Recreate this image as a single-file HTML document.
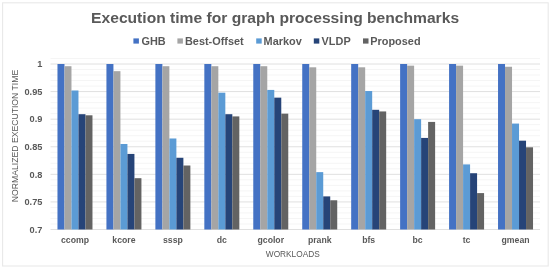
<!DOCTYPE html>
<html><head><meta charset="utf-8"><title>Execution time for graph processing benchmarks</title>
<style>
html,body{margin:0;padding:0;background:#fff;}
body{width:550px;height:269px;overflow:hidden;}
svg{display:block;filter:blur(0.3px);}
</style></head><body>
<svg width="550" height="269" viewBox="0 0 550 269" font-family="'Liberation Sans', Arial, sans-serif" fill="#595959">
<rect x="2.6" y="2.8" width="545.6" height="263.2" fill="#fff" stroke="#e9e9e9" stroke-width="1.1"/>
<line x1="50.5" x2="540.0" y1="58.48" y2="58.48" stroke="#f5f5f5" stroke-width="1"/>
<line x1="50.5" x2="540.0" y1="64.00" y2="64.00" stroke="#e0e0e0" stroke-width="1"/>
<line x1="50.5" x2="540.0" y1="69.52" y2="69.52" stroke="#f5f5f5" stroke-width="1"/>
<line x1="50.5" x2="540.0" y1="75.03" y2="75.03" stroke="#f5f5f5" stroke-width="1"/>
<line x1="50.5" x2="540.0" y1="80.55" y2="80.55" stroke="#f5f5f5" stroke-width="1"/>
<line x1="50.5" x2="540.0" y1="86.07" y2="86.07" stroke="#f5f5f5" stroke-width="1"/>
<line x1="50.5" x2="540.0" y1="91.58" y2="91.58" stroke="#e0e0e0" stroke-width="1"/>
<line x1="50.5" x2="540.0" y1="97.10" y2="97.10" stroke="#f5f5f5" stroke-width="1"/>
<line x1="50.5" x2="540.0" y1="102.62" y2="102.62" stroke="#f5f5f5" stroke-width="1"/>
<line x1="50.5" x2="540.0" y1="108.13" y2="108.13" stroke="#f5f5f5" stroke-width="1"/>
<line x1="50.5" x2="540.0" y1="113.65" y2="113.65" stroke="#f5f5f5" stroke-width="1"/>
<line x1="50.5" x2="540.0" y1="119.17" y2="119.17" stroke="#e0e0e0" stroke-width="1"/>
<line x1="50.5" x2="540.0" y1="124.68" y2="124.68" stroke="#f5f5f5" stroke-width="1"/>
<line x1="50.5" x2="540.0" y1="130.20" y2="130.20" stroke="#f5f5f5" stroke-width="1"/>
<line x1="50.5" x2="540.0" y1="135.72" y2="135.72" stroke="#f5f5f5" stroke-width="1"/>
<line x1="50.5" x2="540.0" y1="141.23" y2="141.23" stroke="#f5f5f5" stroke-width="1"/>
<line x1="50.5" x2="540.0" y1="146.75" y2="146.75" stroke="#e0e0e0" stroke-width="1"/>
<line x1="50.5" x2="540.0" y1="152.27" y2="152.27" stroke="#f5f5f5" stroke-width="1"/>
<line x1="50.5" x2="540.0" y1="157.78" y2="157.78" stroke="#f5f5f5" stroke-width="1"/>
<line x1="50.5" x2="540.0" y1="163.30" y2="163.30" stroke="#f5f5f5" stroke-width="1"/>
<line x1="50.5" x2="540.0" y1="168.82" y2="168.82" stroke="#f5f5f5" stroke-width="1"/>
<line x1="50.5" x2="540.0" y1="174.33" y2="174.33" stroke="#e0e0e0" stroke-width="1"/>
<line x1="50.5" x2="540.0" y1="179.85" y2="179.85" stroke="#f5f5f5" stroke-width="1"/>
<line x1="50.5" x2="540.0" y1="185.37" y2="185.37" stroke="#f5f5f5" stroke-width="1"/>
<line x1="50.5" x2="540.0" y1="190.88" y2="190.88" stroke="#f5f5f5" stroke-width="1"/>
<line x1="50.5" x2="540.0" y1="196.40" y2="196.40" stroke="#f5f5f5" stroke-width="1"/>
<line x1="50.5" x2="540.0" y1="201.92" y2="201.92" stroke="#e0e0e0" stroke-width="1"/>
<line x1="50.5" x2="540.0" y1="207.43" y2="207.43" stroke="#f5f5f5" stroke-width="1"/>
<line x1="50.5" x2="540.0" y1="212.95" y2="212.95" stroke="#f5f5f5" stroke-width="1"/>
<line x1="50.5" x2="540.0" y1="218.47" y2="218.47" stroke="#f5f5f5" stroke-width="1"/>
<line x1="50.5" x2="540.0" y1="223.98" y2="223.98" stroke="#f5f5f5" stroke-width="1"/>
<line x1="50.5" x2="540.0" y1="229.50" y2="229.50" stroke="#e0e0e0" stroke-width="1"/>
<rect x="57.47" y="64.00" width="7.0" height="165.50" fill="#4472C4"/>
<rect x="64.47" y="66.21" width="7.0" height="163.29" fill="#A5A5A5"/>
<rect x="71.47" y="90.48" width="7.0" height="139.02" fill="#5B9BD5"/>
<rect x="78.47" y="114.20" width="7.0" height="115.30" fill="#264478"/>
<rect x="85.47" y="115.30" width="7.0" height="114.20" fill="#636363"/>
<rect x="106.43" y="64.00" width="7.0" height="165.50" fill="#4472C4"/>
<rect x="113.43" y="71.17" width="7.0" height="158.33" fill="#A5A5A5"/>
<rect x="120.43" y="143.99" width="7.0" height="85.51" fill="#5B9BD5"/>
<rect x="127.43" y="153.92" width="7.0" height="75.58" fill="#264478"/>
<rect x="134.43" y="178.19" width="7.0" height="51.31" fill="#636363"/>
<rect x="155.38" y="64.00" width="7.0" height="165.50" fill="#4472C4"/>
<rect x="162.38" y="66.21" width="7.0" height="163.29" fill="#A5A5A5"/>
<rect x="169.38" y="138.48" width="7.0" height="91.02" fill="#5B9BD5"/>
<rect x="176.38" y="157.78" width="7.0" height="71.72" fill="#264478"/>
<rect x="183.38" y="165.51" width="7.0" height="63.99" fill="#636363"/>
<rect x="204.33" y="64.00" width="7.0" height="165.50" fill="#4472C4"/>
<rect x="211.33" y="66.21" width="7.0" height="163.29" fill="#A5A5A5"/>
<rect x="218.33" y="92.69" width="7.0" height="136.81" fill="#5B9BD5"/>
<rect x="225.33" y="114.20" width="7.0" height="115.30" fill="#264478"/>
<rect x="232.33" y="116.41" width="7.0" height="113.09" fill="#636363"/>
<rect x="253.27" y="64.00" width="7.0" height="165.50" fill="#4472C4"/>
<rect x="260.27" y="66.21" width="7.0" height="163.29" fill="#A5A5A5"/>
<rect x="267.27" y="89.93" width="7.0" height="139.57" fill="#5B9BD5"/>
<rect x="274.27" y="97.65" width="7.0" height="131.85" fill="#264478"/>
<rect x="281.27" y="113.65" width="7.0" height="115.85" fill="#636363"/>
<rect x="302.23" y="64.00" width="7.0" height="165.50" fill="#4472C4"/>
<rect x="309.23" y="67.31" width="7.0" height="162.19" fill="#A5A5A5"/>
<rect x="316.23" y="172.13" width="7.0" height="57.37" fill="#5B9BD5"/>
<rect x="323.23" y="196.40" width="7.0" height="33.10" fill="#264478"/>
<rect x="330.23" y="200.26" width="7.0" height="29.24" fill="#636363"/>
<rect x="351.18" y="64.00" width="7.0" height="165.50" fill="#4472C4"/>
<rect x="358.18" y="67.31" width="7.0" height="162.19" fill="#A5A5A5"/>
<rect x="365.18" y="91.03" width="7.0" height="138.47" fill="#5B9BD5"/>
<rect x="372.18" y="109.79" width="7.0" height="119.71" fill="#264478"/>
<rect x="379.18" y="111.44" width="7.0" height="118.06" fill="#636363"/>
<rect x="400.12" y="64.00" width="7.0" height="165.50" fill="#4472C4"/>
<rect x="407.12" y="65.66" width="7.0" height="163.84" fill="#A5A5A5"/>
<rect x="414.12" y="119.17" width="7.0" height="110.33" fill="#5B9BD5"/>
<rect x="421.12" y="137.92" width="7.0" height="91.58" fill="#264478"/>
<rect x="428.12" y="121.92" width="7.0" height="107.58" fill="#636363"/>
<rect x="449.08" y="64.00" width="7.0" height="165.50" fill="#4472C4"/>
<rect x="456.08" y="65.66" width="7.0" height="163.84" fill="#A5A5A5"/>
<rect x="463.08" y="164.40" width="7.0" height="65.10" fill="#5B9BD5"/>
<rect x="470.08" y="173.23" width="7.0" height="56.27" fill="#264478"/>
<rect x="477.08" y="193.09" width="7.0" height="36.41" fill="#636363"/>
<rect x="498.03" y="64.00" width="7.0" height="165.50" fill="#4472C4"/>
<rect x="505.03" y="66.76" width="7.0" height="162.74" fill="#A5A5A5"/>
<rect x="512.03" y="123.58" width="7.0" height="105.92" fill="#5B9BD5"/>
<rect x="519.03" y="140.68" width="7.0" height="88.82" fill="#264478"/>
<rect x="526.03" y="147.30" width="7.0" height="82.20" fill="#636363"/>
<text transform="translate(91.1,23.4) scale(1,0.94)" font-size="15.64" text-anchor="start" font-weight="bold">Execution time for graph processing benchmarks</text>
<rect x="133.4" y="38.4" width="5.5" height="5.2" fill="#4472C4"/>
<text transform="translate(141.5,44.5) scale(1,0.92)" font-size="10.9" text-anchor="start" font-weight="bold">GHB</text>
<rect x="177.4" y="38.4" width="5.5" height="5.2" fill="#A5A5A5"/>
<text transform="translate(185.0,44.5) scale(1,0.92)" font-size="10.9" text-anchor="start" font-weight="bold">Best-Offset</text>
<rect x="256.2" y="38.4" width="5.5" height="5.2" fill="#5B9BD5"/>
<text transform="translate(263.6,44.5) scale(1,0.92)" font-size="10.9" text-anchor="start" font-weight="bold">Markov</text>
<rect x="313.8" y="38.4" width="5.5" height="5.2" fill="#264478"/>
<text transform="translate(321.6,44.5) scale(1,0.92)" font-size="10.9" text-anchor="start" font-weight="bold">VLDP</text>
<rect x="363.0" y="38.4" width="5.5" height="5.2" fill="#636363"/>
<text transform="translate(370.3,44.5) scale(1,0.92)" font-size="10.9" text-anchor="start" font-weight="bold">Proposed</text>
<text transform="translate(42.4,67.2) scale(1,1.0)" font-size="9.2" text-anchor="end" font-weight="bold">1</text>
<text transform="translate(42.4,94.78) scale(1,1.0)" font-size="9.2" text-anchor="end" font-weight="bold">0.95</text>
<text transform="translate(42.4,122.37) scale(1,1.0)" font-size="9.2" text-anchor="end" font-weight="bold">0.9</text>
<text transform="translate(42.4,149.95) scale(1,1.0)" font-size="9.2" text-anchor="end" font-weight="bold">0.85</text>
<text transform="translate(42.4,177.53) scale(1,1.0)" font-size="9.2" text-anchor="end" font-weight="bold">0.8</text>
<text transform="translate(42.4,205.12) scale(1,1.0)" font-size="9.2" text-anchor="end" font-weight="bold">0.75</text>
<text transform="translate(42.4,232.7) scale(1,1.0)" font-size="9.2" text-anchor="end" font-weight="bold">0.7</text>
<text transform="translate(74.97,242.6) scale(1,1.0)" font-size="8.7" text-anchor="middle" font-weight="bold">ccomp</text>
<text transform="translate(123.93,242.6) scale(1,1.0)" font-size="8.7" text-anchor="middle" font-weight="bold">kcore</text>
<text transform="translate(172.88,242.6) scale(1,1.0)" font-size="8.7" text-anchor="middle" font-weight="bold">sssp</text>
<text transform="translate(221.83,242.6) scale(1,1.0)" font-size="8.7" text-anchor="middle" font-weight="bold">dc</text>
<text transform="translate(270.77,242.6) scale(1,1.0)" font-size="8.7" text-anchor="middle" font-weight="bold">gcolor</text>
<text transform="translate(319.73,242.6) scale(1,1.0)" font-size="8.7" text-anchor="middle" font-weight="bold">prank</text>
<text transform="translate(368.68,242.6) scale(1,1.0)" font-size="8.7" text-anchor="middle" font-weight="bold">bfs</text>
<text transform="translate(417.62,242.6) scale(1,1.0)" font-size="8.7" text-anchor="middle" font-weight="bold">bc</text>
<text transform="translate(466.58,242.6) scale(1,1.0)" font-size="8.7" text-anchor="middle" font-weight="bold">tc</text>
<text transform="translate(515.53,242.6) scale(1,1.0)" font-size="8.7" text-anchor="middle" font-weight="bold">gmean</text>
<text transform="translate(265.8,256.6) scale(1,1.0)" font-size="8.3" text-anchor="start">WORKLOADS</text>
<text transform="translate(17.5,202.2) rotate(-90) scale(0.911,1)" font-size="9.5" text-anchor="start">NORMALIZED EXECUTION TIME</text>
</svg>
</body></html>
